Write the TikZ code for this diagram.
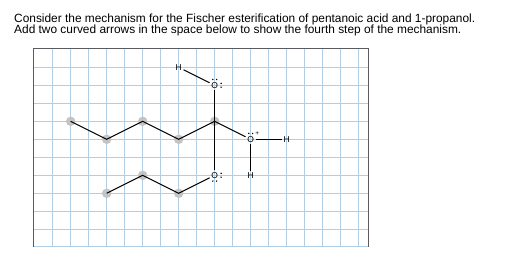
\documentclass[tikz,border=0pt]{standalone}
\usepackage{fontspec}
\setmainfont{Liberation Sans}
\usetikzlibrary{calc}
\begin{document}
\begin{tikzpicture}[x=1pt,y=-1pt,
  gridln/.style={draw=gridblue,line width=0.9pt},
  bond/.style={draw=black,line width=1pt},
  cdot/.style={circle,fill=dotgray,minimum size=9.5pt,inner sep=0pt},
  atom/.style={inner sep=1.6pt,font=\fontsize{8.5}{8.5}\selectfont,fill=none},
  lp/.style={fill=black},
  ptext/.style={anchor=base west,inner sep=0pt,font=\fontsize{11.9}{11.9}\selectfont}]
\definecolor{gridblue}{RGB}{178,206,228}
\definecolor{dotgray}{RGB}{196,196,196}
\definecolor{bordergray}{RGB}{90,90,96}
\useasboundingbox (0,0) rectangle (507,259);
\fill[white] (0,0) rectangle (507,259);
\node[ptext] (t1) at (14,22.3) {Consider the mechanism for the Fischer esterification of pentanoic acid and 1-propanol.};
\node[ptext] (t2) at (14,33.5) {Add two curved arrows in the space below to show the fourth step of the mechanism.};
% grid
\foreach \k in {0,...,17} {\draw[gridln] ({52.7+18*\k},48.3) -- ({52.7+18*\k},246.7);}
\foreach \k in {0,...,9} {\draw[gridln] (33.3,{67.3+18*\k}) -- (368.3,{67.3+18*\k});}
\draw[gridln] (33.3,246.7) -- (368.3,246.7);
\draw[draw=bordergray,line width=1.2pt] (33.3,246.7) -- (33.3,48.3) -- (368.3,48.3) -- (368.3,246.7);
% carbons
\node[cdot] (c1) at (70.7,121.3) {};
\node[cdot] (c2) at (106.7,139.3) {};
\node[cdot] (c3) at (142.7,121.3) {};
\node[cdot] (c4) at (178.7,139.3) {};
\node[cdot] (c5) at (214.7,121.3) {};
\node[cdot] (d1) at (106.7,193.3) {};
\node[cdot] (d2) at (142.7,175.3) {};
\node[cdot] (d3) at (178.7,193.3) {};
% heteroatoms
\node[atom] (h1) at (178.7,67.3) {H};
\node[atom] (o1) at (214.7,85.3) {O};
\node[atom] (o2) at (250.7,139.3) {O};
\node[atom] (h2) at (286.7,139.3) {H};
\node[atom] (h3) at (250.7,175.3) {H};
\node[atom] (o3) at (214.7,175.3) {O};
% bonds
\draw[bond] (c1.center) -- (c2.center) -- (c3.center) -- (c4.center) -- (c5.center);
\draw[bond] (d1.center) -- (d2.center) -- (d3.center) -- (o3);
\draw[bond] (h1) -- (o1);
\draw[bond] (o1) -- (c5.center);
\draw[bond] (c5.center) -- (o3);
\draw[bond] (c5.center) -- (o2);
\draw[bond] (o2) -- (h2);
\draw[bond] (o2) -- (h3);
% lone pairs
\foreach \n in {o1,o2} {
  \fill[lp] ($(\n.center)+(-1.9,-5.8)$) circle (0.8);
  \fill[lp] ($(\n.center)+(1.9,-5.8)$) circle (0.8);
}
\foreach \n in {o1,o3} {
  \fill[lp] ($(\n.center)+(6.4,-1.9)$) circle (0.8);
  \fill[lp] ($(\n.center)+(6.4,1.9)$) circle (0.8);
}
\fill[lp] ($(o3.center)+(-1.9,5.8)$) circle (0.8);
\fill[lp] ($(o3.center)+(1.9,5.8)$) circle (0.8);
\node[inner sep=0pt,font=\fontsize{6.5}{6.5}\selectfont] (plus) at ($(o2.center)+(6.5,-5.8)$) {+};
\end{tikzpicture}
\end{document}
